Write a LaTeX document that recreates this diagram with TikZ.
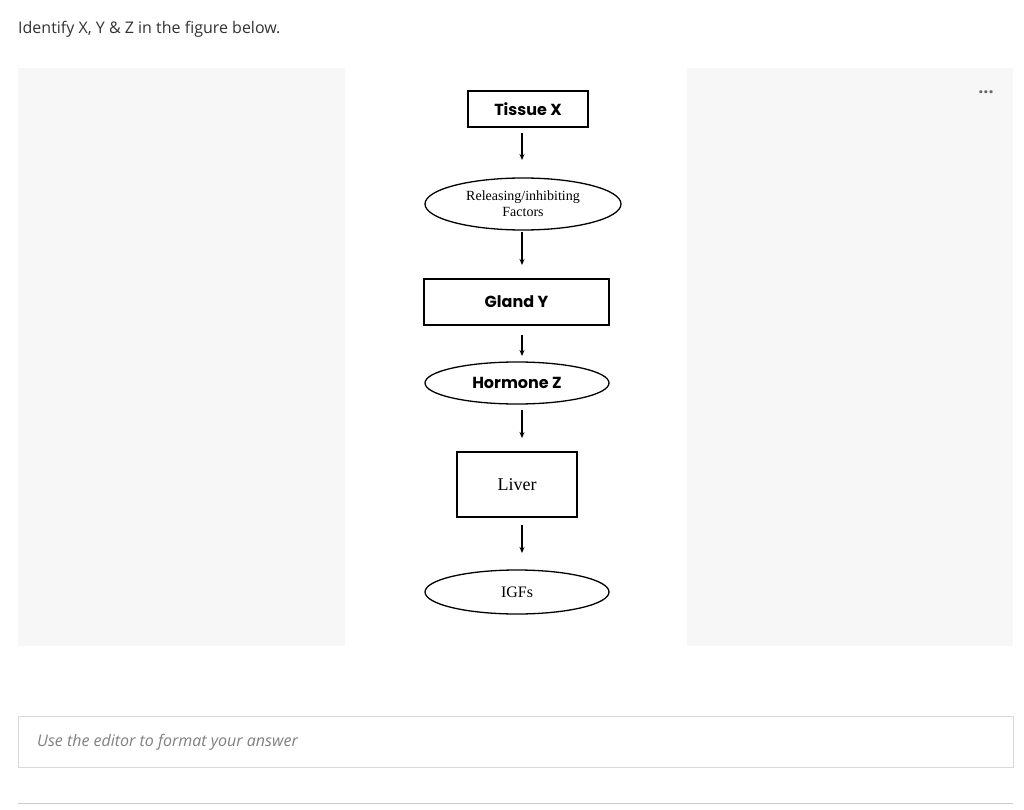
\documentclass[tikz,border=0pt]{standalone}
\usepackage{fontspec}
\setmainfont{Open Sans}
\newfontfamily\serifx{Liberation Serif}
\newfontfamily\comicx{Poppins}
\usetikzlibrary{shapes.geometric,arrows.meta}
\definecolor{panel}{HTML}{F7F7F7}
\definecolor{txt}{HTML}{333333}
\tikzset{
 box/.style={draw,line width=1.3pt,inner sep=0pt},
 oval/.style={draw,line width=1.3pt,ellipse,inner sep=0pt},
 arr/.style={-{Stealth[length=6pt,width=5pt]},line width=1.5pt},
 lab/.style={font=\comicx\fontsize{16}{18}\selectfont\bfseries},
 slab/.style={font=\serifx\fontsize{14}{16}\selectfont,align=center}
}
\begin{document}
\begin{tikzpicture}[x=1pt,y=-1pt]
\path[use as bounding box,fill=white] (0,0) rectangle (1024,810);
\fill[panel] (18,68) rectangle (345,646);
\fill[panel] (687,68) rectangle (1013,646);
\node[anchor=west,text=txt,font=\fontsize{16}{19}\selectfont,inner sep=0pt] (title) at (18,29) {Identify X, Y \& Z in the figure below.};
\node[text=gray!80!black,font=\fontsize{18}{18}\selectfont\bfseries] (dots) at (986,92) {...};
\node[box,minimum width=120pt,minimum height=36pt,lab] (tx) at (528,109) {Tissue X};
\node[oval,minimum width=196pt,minimum height=52pt,slab] (rf) at (523,204) {Releasing/inhibiting\\Factors};
\node[box,minimum width=185pt,minimum height=46pt,lab] (gy) at (516.5,302) {Gland Y};
\node[oval,minimum width=184pt,minimum height=42pt,lab] (hz) at (517,383) {Hormone Z};
\node[box,minimum width=120pt,minimum height=65pt,font=\serifx\fontsize{18}{20}\selectfont] (lv) at (517,484.5) {Liver};
\node[oval,minimum width=184pt,minimum height=44pt,font=\serifx\fontsize{16}{18}\selectfont] (ig) at (517,592) {IGFs};
\coordinate (a1) at (522,133); \coordinate (b1) at (522,160);
\coordinate (a2) at (522,232); \coordinate (b2) at (522,265);
\coordinate (a3) at (522,335); \coordinate (b3) at (522,356);
\coordinate (a4) at (522,410); \coordinate (b4) at (522,438);
\coordinate (a5) at (522,525); \coordinate (b5) at (522,553);
\draw[arr] (a1)--(b1); \draw[arr] (a2)--(b2); \draw[arr] (a3)--(b3);
\draw[arr] (a4)--(b4); \draw[arr] (a5)--(b5);
\draw[draw=gray!30,line width=0.8pt] (18,716) rectangle (1013,767);
\node[anchor=west,text=gray,font=\itshape\fontsize{16}{18}\selectfont,inner sep=0pt] (ans) at (37,742) {Use the editor to format your answer};
\draw[gray!40,line width=1pt] (18,803) -- (1013,803);
\end{tikzpicture}
\end{document}
